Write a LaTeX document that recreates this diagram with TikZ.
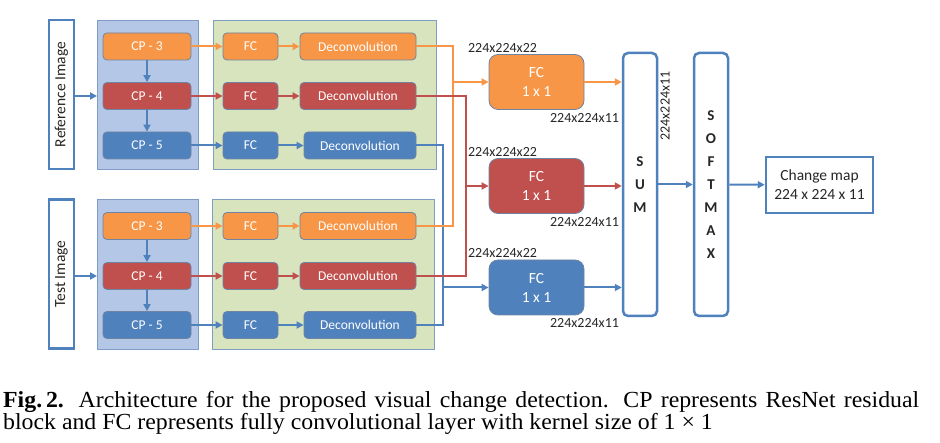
\documentclass[tikz,border=0pt]{standalone}
\usepackage{fontspec}
\setmainfont{Carlito}
\newfontfamily\capfont[FakeStretch=1.035]{Liberation Serif}
\usetikzlibrary{arrows.meta}

\definecolor{orng}{HTML}{F79646}
\definecolor{rd}{HTML}{C0504D}
\definecolor{blu}{HTML}{4F81BD}
\definecolor{pnlblue}{HTML}{B4C7E7}
\definecolor{pnlgreen}{HTML}{D7E4BD}
\definecolor{pnlline}{HTML}{7F9CC4}
\definecolor{boxline}{HTML}{6E84A3}
\definecolor{darktext}{HTML}{262626}

\tikzset{
  blk/.style={rounded corners=4pt, draw=boxline, line width=0.8pt, text=white,
    font=\fontsize{13.5}{14}\selectfont, minimum height=27pt, inner sep=0pt},
  cpbox/.style={blk, minimum width=88pt},
  fcbox/.style={blk, minimum width=55pt},
  dcbox/.style={blk, minimum width=116pt},
  fcone/.style={blk, rounded corners=9pt, minimum width=95pt, minimum height=55pt,
    align=center, font=\fontsize{15.5}{19}\selectfont},
  panel/.style={draw=pnlline, line width=0.8pt},
  imgbox/.style={draw=blu, line width=2.5pt, fill=white, minimum width=149pt,
    minimum height=25pt, inner sep=0pt, rotate=90, text=darktext,
    font=\fontsize{15.5}{16}\selectfont},
  vbar/.style={draw=blu, line width=2.5pt, fill=white, rounded corners=5pt,
    minimum width=34pt, minimum height=263pt, inner sep=0pt, align=center,
    text=darktext, font=\bfseries\fontsize{15}{23}\selectfont},
  dimlbl/.style={text=darktext, inner sep=0pt, font=\fontsize{14}{14}\selectfont},
  wire/.style={line width=2pt},
  link/.style={line width=2pt, -{Triangle[length=7pt,width=7pt]}},
}

\begin{document}
\begin{tikzpicture}[x=1pt,y=-1pt]
  \useasboundingbox (0,0) rectangle (940,443);

  % panels
  \fill[pnlblue, panel] (97,20) rectangle (198,169);
  \fill[pnlgreen, panel] (213,20) rectangle (436,169);
  \fill[pnlblue, panel] (97,199) rectangle (198,349);
  \fill[pnlgreen, panel] (212,199) rectangle (434,349);
  \coordinate (rpnl) at (97,96);
  \coordinate (tpnl) at (97,276);

  % inputs
  \node[imgbox] (ref) at (61.5,94.5) {Reference Image};
  \node[imgbox] (tst) at (61.5,274) {Test Image};

  % reference branch
  \node[cpbox, fill=orng] (rcp3) at (147,46.5) {CP - 3};
  \node[cpbox, fill=rd] (rcp4) at (147,96) {CP - 4};
  \node[cpbox, fill=blu] (rcp5) at (147,145.5) {CP - 5};
  \node[fcbox, fill=orng] (rfc3) at (250.5,46.5) {FC};
  \node[fcbox, fill=rd] (rfc4) at (250.5,96) {FC};
  \node[fcbox, fill=blu] (rfc5) at (250.5,145.5) {FC};
  \node[dcbox, fill=orng] (rdc3) at (358,46.5) {Deconvolution};
  \node[dcbox, fill=rd] (rdc4) at (358,96) {Deconvolution};
  \node[dcbox, fill=blu, minimum width=112pt] (rdc5) at (360,145.5) {Deconvolution};

  % test branch
  \node[cpbox, fill=orng] (tcp3) at (147,226) {CP - 3};
  \node[cpbox, fill=rd] (tcp4) at (147,276) {CP - 4};
  \node[cpbox, fill=blu] (tcp5) at (147,325) {CP - 5};
  \node[fcbox, fill=orng] (tfc3) at (250.5,226) {FC};
  \node[fcbox, fill=rd] (tfc4) at (250.5,276) {FC};
  \node[fcbox, fill=blu] (tfc5) at (250.5,325) {FC};
  \node[dcbox, fill=orng] (tdc3) at (358,226) {Deconvolution};
  \node[dcbox, fill=rd] (tdc4) at (358,276) {Deconvolution};
  \node[dcbox, fill=blu, minimum width=112pt] (tdc5) at (360,325) {Deconvolution};

  % fusion
  \node[fcone, fill=orng] (ofc) at (536.5,82) {FC\\1 x 1};
  \node[fcone, fill=rd] (rfc) at (536.5,186) {FC\\1 x 1};
  \node[fcone, fill=blu] (bfc) at (536.5,287.5) {FC\\1 x 1};
  \node[vbar] (sum) at (640,184.5) {S\\U\\M};
  \node[vbar] (smax) at (711,184.5) {S\\O\\F\\T\\M\\A\\X};
  \node[draw=blu, line width=2.5pt, minimum width=107pt, minimum height=56pt,
    inner sep=0pt, align=center, text=darktext,
    font=\fontsize{15.5}{19}\selectfont] (cmap) at (819.5,185) {Change map\\224 x 224 x 11};

  % sizes
  \node[dimlbl] (in3) at (502.5,48) {224x224x22};
  \node[dimlbl] (in4) at (502.5,152) {224x224x22};
  \node[dimlbl] (in5) at (502.5,253) {224x224x22};
  \node[dimlbl] (out3) at (584.5,118) {224x224x11};
  \node[dimlbl] (out4) at (584.5,222) {224x224x11};
  \node[dimlbl] (out5) at (584.5,323) {224x224x11};
  \node[dimlbl, rotate=90] (sumout) at (665,106) {224x224x11};

  % edges
  \draw[link, blu] (ref.south |- rcp4) -- (rpnl);
  \draw[link, blu] (tst.south |- tcp4) -- (tpnl);
  \foreach \b in {r,t}{
    \draw[link, blu] (\b cp3) -- (\b cp4);
    \draw[link, blu] (\b cp4) -- (\b cp5);
    \draw[link, orng] (\b cp3) -- (\b fc3);
    \draw[link, rd] (\b cp4) -- (\b fc4);
    \draw[link, blu] (\b cp5) -- (\b fc5);
    \draw[link, orng] (\b fc3) -- (\b dc3);
    \draw[link, rd] (\b fc4) -- (\b dc4);
    \draw[link, blu] (\b fc5) -- (\b dc5);
  }
  \coordinate (jb) at (443,287.5);
  \coordinate (jo) at (453,82);
  \coordinate (jr) at (466,186);
  \draw[wire, blu] (rdc5.east) -| (jb) |- (tdc5.east);
  \draw[wire, orng] (rdc3.east) -| (jo) |- (tdc3.east);
  \draw[wire, rd] (rdc4.east) -| (jr) |- (tdc4.east);
  \draw[link, orng] (jo) -- (ofc);
  \draw[link, rd] (jr) -- (rfc);
  \draw[link, blu] (jb) -- (bfc);
  \draw[link, orng] (ofc) -- (ofc -| sum.west);
  \draw[link, rd] (rfc) -- (rfc -| sum.west);
  \draw[link, blu] (bfc) -- (bfc -| sum.west);
  \draw[link, blu] (sum) -- (smax);
  \draw[link, blu] (smax) -- (cmap);

  % caption
  \node[anchor=north west, inner sep=0pt, text width=916pt, align=justify,
    font=\capfont\fontsize{23}{21}\selectfont] (cap) at (3,391)
    {\textbf{Fig.\,2.} Architecture for the proposed visual change detection. CP represents ResNet residual\linebreak
     block and FC represents fully convolutional layer with kernel size of 1 × 1};
\end{tikzpicture}
\end{document}
